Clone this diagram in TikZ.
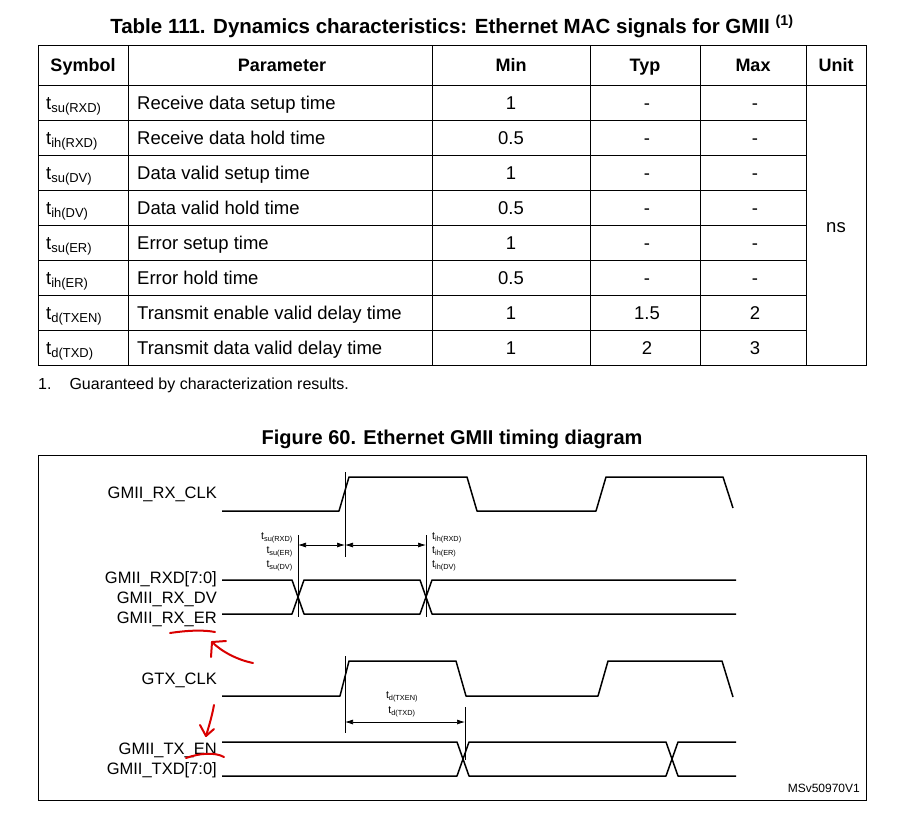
\documentclass[tikz,border=0pt]{standalone}
\usepackage{fontspec}
\setmainfont{Liberation Sans}
\usetikzlibrary{arrows.meta}
\begin{document}
\begin{tikzpicture}[x=1pt,y=-1pt,
  grid/.style={line width=0.7pt},
  sig/.style={line width=1.5pt,line join=round},
  thin/.style={line width=0.7pt},
  dim/.style={line width=0.7pt,{Latex[length=8pt,width=5pt]}-{Latex[length=8pt,width=5pt]}},
  lbl/.style={anchor=east,inner sep=0pt,font=\fontsize{16.5}{16.5}\selectfont},
  tiny/.style={inner sep=0pt,font=\fontsize{10.5}{11}\selectfont},
  cell/.style={inner sep=0pt,font=\fontsize{18.5}{19}\selectfont},
  red/.style={draw=red!85!black,line width=2pt,line cap=round}]
\useasboundingbox (0,0) rectangle (905,812);
\node[anchor=base,font=\bfseries\fontsize{20.5}{21}\selectfont] (ttl) at (452,33) {Table 111. Dynamics characteristics: Ethernet MAC signals for GMII \textsuperscript{(1)}};
% table
\draw[grid] (38,45) rectangle (866,365);
\foreach \y in {85,120,155,190,225,260,295,330} \draw[grid] (38,\y) -- (806,\y);
\draw[grid] (806,85) -- (866,85);
\foreach \x in {128,432,590,700,806} \draw[grid] (\x,45) -- (\x,365);
\foreach \x/\t in {83/Symbol,282/Parameter,511/Min,645/Typ,753/Max,836/Unit}
  \node[cell,anchor=base,font=\bfseries\fontsize{18}{18}\selectfont] (h\t) at (\x,71) {\t};
\foreach \i/\s/\p/\mn/\ty/\mx in {
 0/su(RXD)/Receive data setup time/1/-/-,
 1/ih(RXD)/Receive data hold time/0.5/-/-,
 2/su(DV)/Data valid setup time/1/-/-,
 3/ih(DV)/Data valid hold time/0.5/-/-,
 4/su(ER)/Error setup time/1/-/-,
 5/ih(ER)/Error hold time/0.5/-/-,
 6/d(TXEN)/Transmit enable valid delay time/1/1.5/2,
 7/d(TXD)/Transmit data valid delay time/1/2/3}{
  \pgfmathsetmacro\yy{109+35*\i}
  \node[cell,anchor=base west] (s\i) at (46,\yy) {t\textsubscript{\s}};
  \node[cell,anchor=base west] (p\i) at (137,\yy) {\p};
  \node[cell,anchor=base] (mn\i) at (511,\yy) {\mn};
  \node[cell,anchor=base] (ty\i) at (647,\yy) {\ty};
  \node[cell,anchor=base] (mx\i) at (755,\yy) {\mx};
}
\node[cell,anchor=base] (ns) at (836,232) {ns};
\node[anchor=base west,inner sep=0pt,font=\fontsize{16}{16}\selectfont] (fn) at (38,389) {1.\hspace{18pt}Guaranteed by characterization results.};
\node[anchor=base,font=\bfseries\fontsize{20}{20}\selectfont] (ftl) at (452,444) {Figure 60. Ethernet GMII timing diagram};
\draw[line width=1pt] (38,455) rectangle (866,800);
% labels
\node[lbl,anchor=base east] (l1) at (217,498) {GMII\_RX\_CLK};
\node[lbl,anchor=base east] (l2) at (217,583) {GMII\_RXD[7:0]};
\node[lbl,anchor=base east] (l3) at (217,603) {GMII\_RX\_DV};
\node[lbl,anchor=base east] (l4) at (217,623) {GMII\_RX\_ER};
\node[lbl,anchor=base east] (l5) at (217,684) {GTX\_CLK};
\node[lbl,anchor=base east] (l6) at (217,754) {GMII\_TX\_EN};
\node[lbl,anchor=base east] (l7) at (217,774) {GMII\_TXD[7:0]};
\node[anchor=base east,inner sep=0pt,font=\fontsize{12}{12}\selectfont] (ms) at (860,792) {MSv50970V1};
% RX clock
\draw[sig] (222,511) -- (339,511) -- (349,477) -- (467,477) -- (477,511) -- (596,511) -- (606,477) -- (723,477) -- (733,508);
% RX data
\draw[sig] (222,580) -- (292,580) -- (304,614) -- (420,614) -- (432,580) -- (736,580);
\draw[sig] (222,614) -- (292,614) -- (304,580) -- (420,580) -- (432,614) -- (736,614);
% GTX clock
\draw[sig] (222,696) -- (340,696) -- (349,661) -- (456,661) -- (466,696) -- (598,696) -- (608,661) -- (722,661) -- (733,697);
% TX data
\draw[sig] (222,742) -- (457,742) -- (469,776) -- (666,776) -- (678,742) -- (736,742);
\draw[sig] (222,776) -- (457,776) -- (469,742) -- (666,742) -- (678,776) -- (736,776);
% reference lines
\coordinate (c1a) at (345,472); \coordinate (c1b) at (345,557);
\coordinate (v1a) at (298,535); \coordinate (v1b) at (298,617);
\coordinate (v2a) at (426,535); \coordinate (v2b) at (426,617);
\draw[thin] (c1a) -- (c1b); \draw[thin] (v1a) -- (v1b); \draw[thin] (v2a) -- (v2b);
\coordinate (a1) at (298,545); \coordinate (a2) at (345,545); \coordinate (a3) at (426,545);
\draw[dim] (a1) -- (a2); \draw[dim] (a2) -- (a3);
\node[tiny,anchor=east] (su1) at (293,538) {t\textsubscript{su(RXD)}};
\node[tiny,anchor=east] (su2) at (293,552) {t\textsubscript{su(ER)}};
\node[tiny,anchor=east] (su3) at (293,566) {t\textsubscript{su(DV)}};
\node[tiny,anchor=west] (ih1) at (432,538) {t\textsubscript{ih(RXD)}};
\node[tiny,anchor=west] (ih2) at (432,552) {t\textsubscript{ih(ER)}};
\node[tiny,anchor=west] (ih3) at (432,566) {t\textsubscript{ih(DV)}};
\coordinate (c2a) at (345,656); \coordinate (c2b) at (345,733);
\coordinate (v3a) at (465,707); \coordinate (v3b) at (465,760);
\draw[thin] (c2a) -- (c2b); \draw[thin] (v3a) -- (v3b);
\coordinate (b1) at (345,722); \coordinate (b2) at (465,722);
\draw[dim] (b1) -- (b2);
\node[tiny] (td1) at (402,697) {t\textsubscript{d(TXEN)}};
\node[tiny] (td2) at (402,712) {t\textsubscript{d(TXD)}};
% red annotations
\draw[red] (170,633) .. controls (190,630) and (205,630) .. (215,632);
\draw[red] (253,663) .. controls (238,660) and (222,652) .. (212,642);
\draw[red] (212,642) -- (211,657);
\draw[red] (212,642) -- (226,641);
\draw[red] (214,705) .. controls (212,716) and (209,726) .. (206,736);
\draw[red] (206,736) -- (200,725);
\draw[red] (206,736) -- (214,729);
\draw[red] (186,758) .. controls (200,753) and (215,752) .. (224,757);
\end{tikzpicture}
\end{document}
